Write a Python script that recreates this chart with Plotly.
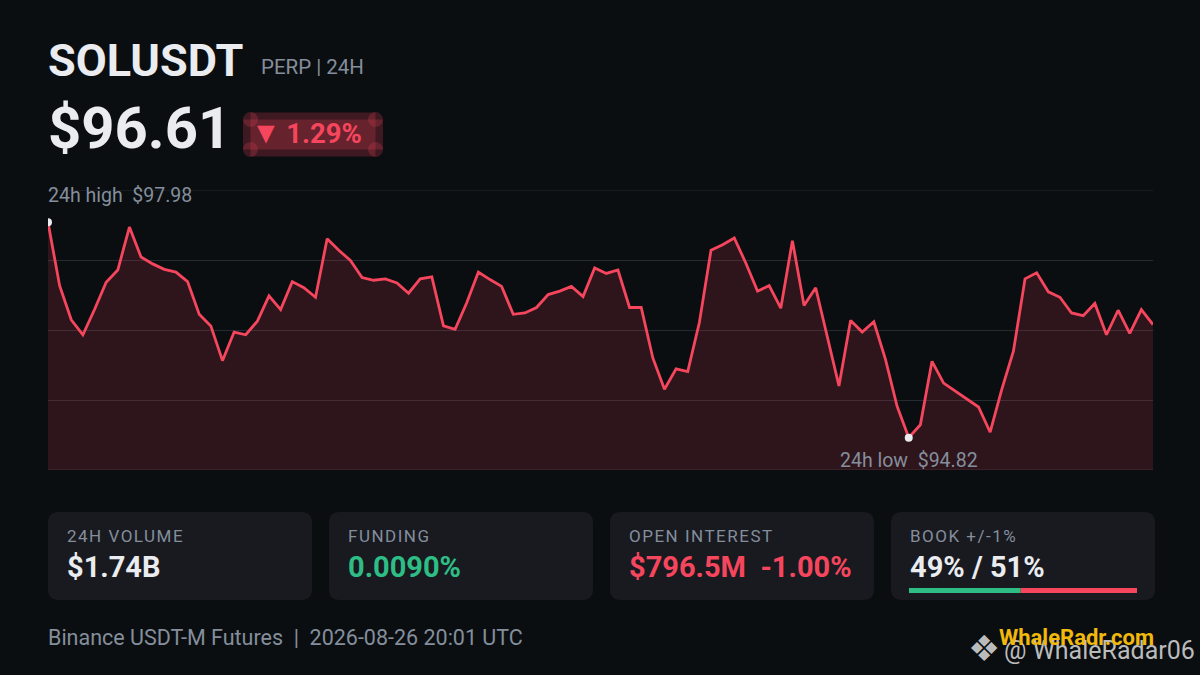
import numpy as np
import plotly.graph_objects as go

# 24h price series, 15-minute closes
prices = [
    97.98, 97.05, 96.55, 96.33, 96.70, 97.10, 97.28, 97.91, 97.47, 97.37,
    97.29, 97.25, 97.11, 96.63, 96.46, 95.95, 96.37, 96.33, 96.53, 96.90,
    96.70, 97.11, 97.02, 96.88, 97.74, 97.57, 97.42, 97.17, 97.13, 97.15,
    97.09, 96.94, 97.15, 97.18, 96.46, 96.41, 96.80, 97.25, 97.14, 97.04,
    96.63, 96.65, 96.73, 96.92, 96.97, 97.04, 96.89, 97.31, 97.23, 97.28,
    96.73, 96.73, 95.99, 95.53, 95.83, 95.79, 96.51, 97.57, 97.65, 97.75,
    97.38, 96.97, 97.05, 96.72, 97.71, 96.76, 97.02, 96.31, 95.58, 96.54,
    96.37, 96.52, 95.97, 95.28, 94.82, 95.01, 95.94, 95.62, 95.50, 95.38,
    95.27, 94.90, 95.53, 96.09, 97.15, 97.24, 96.96, 96.88, 96.65, 96.61,
    96.79, 96.33, 96.69, 96.35, 96.70, 96.48,
]

symbol = "SOLUSDT"
subtitle = "PERP | 24H"
last_price = "$96.61"
change_pct = "1.29%"

card_labels = ["24H VOLUME", "FUNDING", "OPEN INTEREST", "BOOK +/-1%"]
card_values = ["$1.74B", "0.0090%", "$796.5M\u00a0\u00a0-1.00%", "49% / 51%"]
book_bid, book_ask = 49, 51

footer = "Binance USDT-M Futures\u00a0\u00a0|\u00a0\u00a02026-08-26 20:01 UTC"

# colours
BG = "#0b0e11"
CARD = "#181a20"
WHITE = "#eaecef"
GREY = "#848e9c"
RED = "#f6465d"
GREEN = "#2ebd85"
GRID = "#262a31"

W, H = 1200, 675


def X(px):
    return px / W


def Y(py):
    return 1 - py / H


def rrect(x0, y0, x1, y1, r):
    pts = [
        ("M", x0 + r, y0), ("L", x1 - r, y0), ("Q", x1, y0, x1, y0 + r),
        ("L", x1, y1 - r), ("Q", x1, y1, x1 - r, y1), ("L", x0 + r, y1),
        ("Q", x0, y1, x0, y1 - r), ("L", x0, y0 + r), ("Q", x0, y0, x0 + r, y0),
    ]
    out = ""
    for p in pts:
        cmd, coords = p[0], p[1:]
        xy = [f"{X(coords[i]):.5f},{Y(coords[i + 1]):.5f}" for i in range(0, len(coords), 2)]
        out += cmd + " " + " ".join(xy) + " "
    return out + "Z"


x = list(range(len(prices)))
hi_i, lo_i = int(np.argmax(prices)), int(np.argmin(prices))
hi, lo = prices[hi_i], prices[lo_i]
pad = (hi - lo) * 0.15
yr = [lo - pad, hi + pad]

fig = go.Figure()
fig.add_trace(go.Scatter(
    x=x, y=prices, mode="lines", fill="tozeroy",
    fillcolor="rgba(246,70,93,0.15)",
    line=dict(color=RED, width=2.8), hoverinfo="skip",
))
fig.add_trace(go.Scatter(
    x=[hi_i, lo_i], y=[hi, lo], mode="markers",
    marker=dict(color=WHITE, size=8), hoverinfo="skip",
))

ann = []
shapes = []

# top and bottom grid lines (plotly skips grid lines on the plot edges)
for yv in yr:
    shapes.append(dict(type="line", xref="paper", yref="y", x0=X(48), x1=X(1153), y0=yv, y1=yv,
                       line=dict(color=GRID, width=1), layer="below"))

# header
ann.append(dict(x=X(46), y=Y(61), text=f"<b>{symbol}</b>", xanchor="left", yanchor="middle",
                font=dict(size=45, color=WHITE)))
ann.append(dict(x=X(259), y=Y(66.5), text=subtitle, xanchor="left", yanchor="middle",
                font=dict(size=20.5, color=GREY)))
ann.append(dict(x=X(46), y=Y(128), text=f"<b>{last_price}</b>", xanchor="left", yanchor="middle",
                font=dict(size=58, color=WHITE)))

# change badge (layered translucent pieces)
badge = "rgba(246,70,93,0.22)"
shapes.append(dict(type="rect", xref="paper", yref="paper", x0=X(243), x1=X(383), y0=Y(119.5), y1=Y(149.5),
                   fillcolor=badge, line_width=0, layer="below"))
shapes.append(dict(type="rect", xref="paper", yref="paper", x0=X(250.5), x1=X(375.5), y0=Y(112.5), y1=Y(156.5),
                   fillcolor=badge, line_width=0, layer="below"))
for cx in (250.5, 375.5):
    for cy in (119.5, 149.5):
        shapes.append(dict(type="circle", xref="paper", yref="paper", x0=X(cx - 7.5), x1=X(cx + 7.5),
                           y0=Y(cy - 7.5), y1=Y(cy + 7.5), fillcolor=badge, line_width=0, layer="below"))
ann.append(dict(x=X(249), y=Y(132.5), text=f'<b><span style="font-size:30px">▼</span>\u2009{change_pct}</b>',
                xanchor="left", yanchor="middle", font=dict(size=27.5, color=RED)))

# high / low labels
ann.append(dict(x=hi_i, y=hi, xref="x", yref="y", text=f"24h high\u00a0\u00a0${hi:.2f}",
                xanchor="left", yanchor="middle", yshift=27, xshift=-2, showarrow=False,
                font=dict(size=19.5, color=GREY)))
ann.append(dict(x=lo_i, y=lo, xref="x", yref="y", text=f"24h low\u00a0\u00a0${lo:.2f}",
                xanchor="center", yanchor="middle", yshift=-23, showarrow=False,
                font=dict(size=19.5, color=GREY)))

# stat cards
card_colors = [WHITE, GREEN, RED, WHITE]
for k, (lab, val) in enumerate(zip(card_labels, card_values)):
    cx0 = 48 + k * 281
    shapes.append(dict(type="path", xref="paper", yref="paper", path=rrect(cx0, 512, cx0 + 264, 600, 11),
                       fillcolor=CARD, line_width=0, layer="below"))
    ann.append(dict(x=X(cx0 + 17), y=Y(536), text=f'<span style="letter-spacing:1.5px">{lab}</span>',
                    xanchor="left", yanchor="middle", font=dict(size=17, color=GREY)))
    ann.append(dict(x=X(cx0 + 17), y=Y(567), text=f"<b>{val}</b>", xanchor="left", yanchor="middle",
                    font=dict(size=29, color=card_colors[k])))

# order book bar
bx0, bx1 = 909, 1137
bmid = bx0 + (bx1 - bx0) * book_bid / (book_bid + book_ask)
shapes.append(dict(type="rect", xref="paper", yref="paper", x0=X(bx0), x1=X(bmid), y0=Y(588), y1=Y(593),
                   fillcolor=GREEN, line_width=0))
shapes.append(dict(type="rect", xref="paper", yref="paper", x0=X(bmid), x1=X(bx1), y0=Y(588), y1=Y(593),
                   fillcolor=RED, line_width=0))

# footer
ann.append(dict(x=X(46), y=Y(637), text=footer, xanchor="left", yanchor="middle",
                font=dict(size=21.5, color=GREY)))

# watermark
ann.append(dict(x=X(984), y=Y(648), text="❖", xanchor="center", yanchor="middle",
                font=dict(size=36, color="rgba(220,220,220,0.85)", family="DejaVu Sans")))
ann.append(dict(x=X(1002), y=Y(650), text="@ WhaleRadar06", xanchor="left", yanchor="middle",
                font=dict(size=25, color="rgba(220,220,220,0.85)")))
ann.append(dict(x=X(997), y=Y(637), text="<b>WhaleRadr.com</b>", xanchor="left", yanchor="middle",
                font=dict(size=22, color="#f0b90b")))

for a in ann:
    a.setdefault("xref", "paper")
    a.setdefault("yref", "paper")
    a.setdefault("showarrow", False)

fig.update_layout(
    width=W, height=H,
    margin=dict(l=0, r=0, t=0, b=0),
    paper_bgcolor=BG, plot_bgcolor=BG,
    showlegend=False,
    font=dict(family="Roboto, sans-serif", color=WHITE),
    xaxis=dict(domain=[X(48), X(1153)], range=[0, len(prices) - 1], visible=False),
    yaxis=dict(domain=[Y(470), Y(190)], range=yr, tickvals=list(np.linspace(yr[0], yr[1], 5)),
               showticklabels=False, gridcolor=GRID, gridwidth=1, zeroline=False, showline=False,
               ticks=""),
    annotations=ann,
    shapes=shapes,
)

fig.write_html("out.html", config={"displayModeBar": False},
               post_script="document.body.style.margin='0';")
